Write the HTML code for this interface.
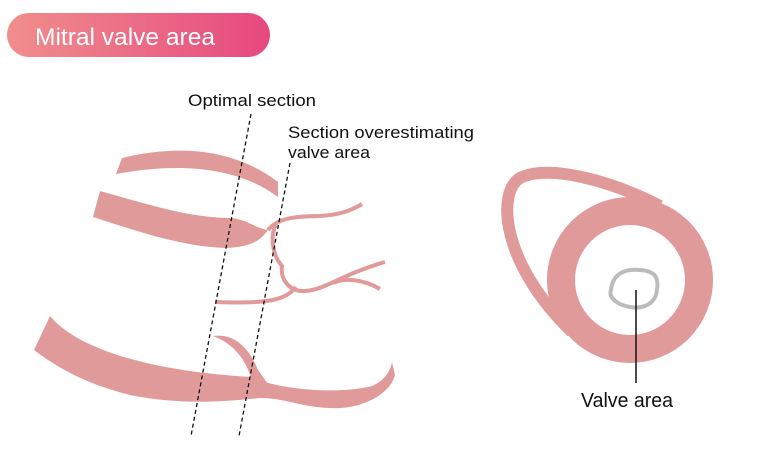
<!DOCTYPE html>
<html><head><meta charset="utf-8"><style>html,body{margin:0;padding:0;background:#fff}svg{display:block}</style></head>
<body>
<svg width="768" height="473" viewBox="0 0 768 473" xmlns="http://www.w3.org/2000/svg" font-family="Liberation Sans, sans-serif">
<defs><linearGradient id="g" x1="0" x2="1"><stop offset="0" stop-color="#f08e8c"/><stop offset="1" stop-color="#e6487f"/></linearGradient></defs>
<rect x="7" y="13" width="263" height="44" rx="22" fill="url(#g)"/>
<text x="35" y="45" font-size="24" fill="#fff" textLength="180" lengthAdjust="spacingAndGlyphs">Mitral valve area</text>
<g fill="#e09a9a" stroke="none">
<path d="M122 158 C170 146 230 145 278 182 L278 197 C235 165 175 163 116 174 Z"/>
<path d="M100 191 C150 205 190 218 232 218 C248 220 255 228 268 230 C262 238 255 247 225 248 C180 246 140 232 93 217 Z"/>
<path d="M50 316 C80 352 160 372 252 377 L268 383 C295 390 340 394 372 386 C385 380 390 372 392 362 L395 375 C390 395 360 410 330 408 C300 407 285 398 260 398 C220 402 180 405 130 395 C90 385 60 370 34 350 Z"/>
<path d="M213 336 C236 333 250 350 258 370 L268 384 L252 381 C248 366 238 345 213 336 Z"/>
</g>
<g fill="none" stroke="#e09a9a" stroke-width="4" stroke-linecap="butt">
<path d="M268 230 C276 220 290 216 320 216 C340 215 352 210 362 204"/>
<path d="M276 225 C270 235 272 255 282 266 C280 280 290 292 305 291 C325 290 340 275 385 262"/>
<path d="M333 283 C345 277 365 280 380 289"/>
<path d="M296 287 C285 300 270 304 215 302"/>
</g>
<g stroke="#111" stroke-width="1.3" stroke-dasharray="4,3" fill="none">
<line x1="251" y1="114" x2="191" y2="436"/>
<line x1="290" y1="163" x2="239" y2="436"/>
</g>
<text x="188" y="106" font-size="17" fill="#111" textLength="128" lengthAdjust="spacingAndGlyphs">Optimal section</text>
<text x="288" y="138" font-size="17" fill="#111" textLength="186" lengthAdjust="spacingAndGlyphs">Section overestimating</text>
<text x="288" y="158" font-size="17" fill="#111" textLength="82" lengthAdjust="spacingAndGlyphs">valve area</text>
<path d="M660 206 C610 180 548 164 520 178 C497 192 500 262 572 332" fill="none" stroke="#e09a9a" stroke-width="12"/>
<circle cx="630" cy="280" r="69" fill="none" stroke="#e09a9a" stroke-width="28"/>
<path d="M611 290 C612 278 620 268 640 270 C656 271 660 278 656 295 C652 306 640 309 630 307 C618 305 608 298 611 290 Z" fill="none" stroke="#bbb" stroke-width="4"/>
<line x1="636" y1="290" x2="636" y2="383" stroke="#111" stroke-width="1.5"/>
<text x="581" y="407" font-size="20" fill="#111" textLength="92" lengthAdjust="spacingAndGlyphs">Valve area</text>
</svg>
</body></html>
